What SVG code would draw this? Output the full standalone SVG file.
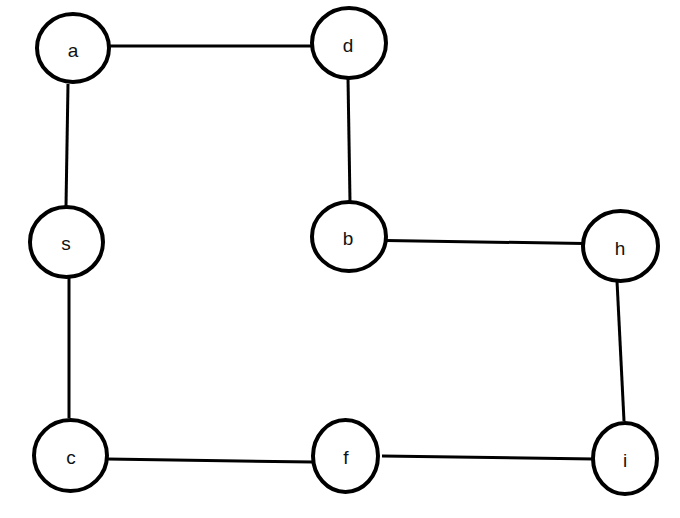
<svg xmlns="http://www.w3.org/2000/svg" width="680" height="518" viewBox="0 0 680 518">
<style>
.node ellipse{fill:#fff;stroke:#000;stroke-width:4}
.node text{font-family:"Liberation Sans",Arial,sans-serif;font-size:19px;fill:#111;text-anchor:middle}
#edges line{stroke:#000;stroke-width:3;stroke-linecap:butt}
</style>
<rect width="680" height="518" fill="#fff"/>
<g id="edges">
<line x1="110" y1="46" x2="313" y2="46"/>
<line x1="68" y1="84" x2="66" y2="206"/>
<line x1="348" y1="78" x2="350" y2="202"/>
<line x1="386" y1="240.5" x2="584" y2="243.5"/>
<line x1="617" y1="281" x2="624" y2="421"/>
<line x1="69" y1="277" x2="69" y2="418"/>
<line x1="107" y1="459" x2="313" y2="462"/>
<line x1="382" y1="456" x2="594" y2="459"/>
</g>
<g id="node-a" class="node"><ellipse cx="73" cy="48" rx="36" ry="34"/><text x="73" y="57">a</text></g>
<g id="node-d" class="node"><ellipse cx="349" cy="43" rx="37" ry="35"/><text x="348" y="52">d</text></g>
<g id="node-s" class="node"><ellipse cx="66.5" cy="242" rx="36.5" ry="35"/><text x="66" y="250">s</text></g>
<g id="node-b" class="node"><ellipse cx="349" cy="236.5" rx="37" ry="34.5"/><text x="348" y="245">b</text></g>
<g id="node-h" class="node"><ellipse cx="620.5" cy="246" rx="37.5" ry="35"/><text x="620" y="255">h</text></g>
<g id="node-c" class="node"><ellipse cx="70.5" cy="455.5" rx="36.5" ry="35.5"/><text x="71" y="464">c</text></g>
<g id="node-f" class="node"><ellipse cx="345.5" cy="456" rx="32.5" ry="36"/><text x="346" y="464">f</text></g>
<g id="node-i" class="node"><ellipse cx="625" cy="458.5" rx="32" ry="35.5"/><text x="625" y="467">i</text></g>
</svg>
